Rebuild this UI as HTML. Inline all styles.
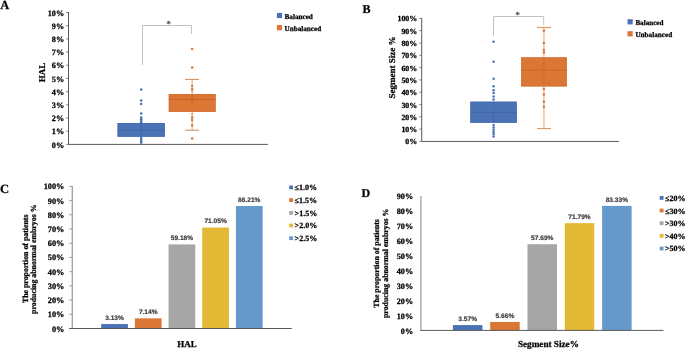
<!DOCTYPE html>
<html><head><meta charset="utf-8"><title>Figure</title>
<style>html,body{margin:0;padding:0;background:#fff;overflow:hidden}svg{display:block}</style></head>
<body>
<svg width="685" height="349" viewBox="0 0 685 349" text-rendering="geometricPrecision">
<rect width="685" height="349" fill="#fff"/>
<text x="0.2" y="9" font-size="12.4" font-family="Liberation Serif, serif" font-weight="bold" stroke="#000" stroke-width="0.25">A</text>
<path d="M68.5 12.10V144.4H268" fill="none" stroke="#5a5a5a" stroke-width="1"/>
<path d="M66.2 144.40H68.5" stroke="#5a5a5a" stroke-width="0.8"/>
<path d="M66.2 131.21H68.5" stroke="#5a5a5a" stroke-width="0.8"/>
<path d="M66.2 118.02H68.5" stroke="#5a5a5a" stroke-width="0.8"/>
<path d="M66.2 104.83H68.5" stroke="#5a5a5a" stroke-width="0.8"/>
<path d="M66.2 91.64H68.5" stroke="#5a5a5a" stroke-width="0.8"/>
<path d="M66.2 78.45H68.5" stroke="#5a5a5a" stroke-width="0.8"/>
<path d="M66.2 65.26H68.5" stroke="#5a5a5a" stroke-width="0.8"/>
<path d="M66.2 52.07H68.5" stroke="#5a5a5a" stroke-width="0.8"/>
<path d="M66.2 38.88H68.5" stroke="#5a5a5a" stroke-width="0.8"/>
<path d="M66.2 25.69H68.5" stroke="#5a5a5a" stroke-width="0.8"/>
<path d="M66.2 12.50H68.5" stroke="#5a5a5a" stroke-width="0.8"/>
<text x="64.1" y="147.50" font-size="8.2" text-anchor="end" font-family="Liberation Serif, serif" font-weight="bold" stroke="#000" stroke-width="0.25">0%</text>
<text x="64.1" y="134.31" font-size="8.2" text-anchor="end" font-family="Liberation Serif, serif" font-weight="bold" stroke="#000" stroke-width="0.25">1%</text>
<text x="64.1" y="121.12" font-size="8.2" text-anchor="end" font-family="Liberation Serif, serif" font-weight="bold" stroke="#000" stroke-width="0.25">2%</text>
<text x="64.1" y="107.93" font-size="8.2" text-anchor="end" font-family="Liberation Serif, serif" font-weight="bold" stroke="#000" stroke-width="0.25">3%</text>
<text x="64.1" y="94.74" font-size="8.2" text-anchor="end" font-family="Liberation Serif, serif" font-weight="bold" stroke="#000" stroke-width="0.25">4%</text>
<text x="64.1" y="81.55" font-size="8.2" text-anchor="end" font-family="Liberation Serif, serif" font-weight="bold" stroke="#000" stroke-width="0.25">5%</text>
<text x="64.1" y="68.36" font-size="8.2" text-anchor="end" font-family="Liberation Serif, serif" font-weight="bold" stroke="#000" stroke-width="0.25">6%</text>
<text x="64.1" y="55.17" font-size="8.2" text-anchor="end" font-family="Liberation Serif, serif" font-weight="bold" stroke="#000" stroke-width="0.25">7%</text>
<text x="64.1" y="41.98" font-size="8.2" text-anchor="end" font-family="Liberation Serif, serif" font-weight="bold" stroke="#000" stroke-width="0.25">8%</text>
<text x="64.1" y="28.79" font-size="8.2" text-anchor="end" font-family="Liberation Serif, serif" font-weight="bold" stroke="#000" stroke-width="0.25">9%</text>
<text x="64.1" y="15.60" font-size="8.2" text-anchor="end" font-family="Liberation Serif, serif" font-weight="bold" stroke="#000" stroke-width="0.25">10%</text>
<text transform="translate(44.8 72.6) rotate(-90)" font-size="9" text-anchor="middle" font-family="Liberation Serif, serif" font-weight="bold" stroke="#000" stroke-width="0.25">HAL</text>
<path d="M142.5 64.8V25.5H191.5V33.8" fill="none" stroke="#c2c2c2" stroke-width="1"/>
<text x="168.5" y="27.3" font-size="9.5" text-anchor="middle" fill="#3a3a3a" font-family="Liberation Serif, serif" font-weight="bold">*</text>
<circle cx="141.2" cy="89.50" r="1.25" fill="#4a72b5" fill-opacity="1"/>
<circle cx="141.2" cy="100.40" r="1.25" fill="#4a72b5" fill-opacity="1"/>
<circle cx="141.2" cy="103.90" r="1.25" fill="#4a72b5" fill-opacity="1"/>
<circle cx="141.2" cy="113.40" r="1.25" fill="#4a72b5" fill-opacity="1"/>
<circle cx="141.2" cy="117.50" r="1.25" fill="#4a72b5" fill-opacity="1"/>
<circle cx="141.2" cy="119.20" r="1.25" fill="#4a72b5" fill-opacity="1"/>
<circle cx="141.2" cy="120.80" r="1.25" fill="#4a72b5" fill-opacity="1"/>
<circle cx="141.2" cy="122.20" r="1.25" fill="#4a72b5" fill-opacity="1"/>
<circle cx="141.2" cy="138.00" r="1.25" fill="#4a72b5" fill-opacity="1"/>
<circle cx="141.2" cy="139.70" r="1.25" fill="#4a72b5" fill-opacity="1"/>
<circle cx="141.2" cy="141.20" r="1.25" fill="#4a72b5" fill-opacity="1"/>
<circle cx="141.2" cy="142.70" r="1.25" fill="#4a72b5" fill-opacity="1"/>
<rect x="117.6" y="123" width="47.2" height="13.8" fill="#4a72b5"/>
<rect x="117.9" y="123.3" width="46.6" height="13.2" fill="none" stroke="#4169ab" stroke-width="0.6"/>
<path d="M139.6 126.6l3.2 3.2m0 -3.2l-3.2 3.2" stroke="#3f64a2" stroke-width="0.5" stroke-opacity="0.7" fill="none"/>
<path d="M117.6 130.4H164.8" stroke="#3e63a3" stroke-width="0.8"/>
<circle cx="141.2" cy="124.80" r="1.0" fill="#3f64a2" fill-opacity="0.6"/>
<circle cx="141.2" cy="126.80" r="1.0" fill="#3f64a2" fill-opacity="0.6"/>
<circle cx="141.2" cy="131.80" r="1.0" fill="#3f64a2" fill-opacity="0.6"/>
<circle cx="141.2" cy="133.60" r="1.0" fill="#3f64a2" fill-opacity="0.6"/>
<circle cx="141.2" cy="135.40" r="1.0" fill="#3f64a2" fill-opacity="0.6"/>
<path d="M192.15 79.4V94 M192.15 111.6V130.2" stroke="#e3a47c" stroke-width="1" fill="none"/>
<path d="M185 79.4H199.1 M185 130.2H199.1" stroke="#dc8750" stroke-width="1" fill="none"/>
<rect x="168.8" y="94" width="46.8" height="17.8" fill="#db7635"/>
<rect x="169.1" y="94.3" width="46.2" height="17.2" fill="none" stroke="#cc6c30" stroke-width="0.6"/>
<path d="M190.5 98.7l3.3 3.3m0 -3.3l-3.3 3.3" stroke="#c2652a" stroke-width="0.5" stroke-opacity="0.8" fill="none"/>
<path d="M168.8 99.4H215.6" stroke="#c2652a" stroke-width="0.8"/>
<circle cx="192.15" cy="48.90" r="1.25" fill="#db7635" fill-opacity="1"/>
<circle cx="192.15" cy="67.50" r="1.25" fill="#db7635" fill-opacity="1"/>
<circle cx="192.15" cy="86.10" r="1.25" fill="#db7635" fill-opacity="1"/>
<circle cx="192.15" cy="89.20" r="1.25" fill="#db7635" fill-opacity="1"/>
<circle cx="192.15" cy="117.50" r="1.25" fill="#db7635" fill-opacity="1"/>
<circle cx="192.15" cy="119.90" r="1.25" fill="#db7635" fill-opacity="1"/>
<circle cx="192.15" cy="125.50" r="1.25" fill="#db7635" fill-opacity="1"/>
<circle cx="192.15" cy="138.60" r="1.25" fill="#db7635" fill-opacity="1"/>
<circle cx="192.15" cy="91.80" r="0.9" fill="#db7635" fill-opacity="0.7"/>
<circle cx="192.15" cy="113.80" r="0.9" fill="#db7635" fill-opacity="0.7"/>
<circle cx="192.15" cy="96.00" r="1.0" fill="#c2652a" fill-opacity="0.6"/>
<circle cx="192.15" cy="98.20" r="1.0" fill="#c2652a" fill-opacity="0.6"/>
<circle cx="192.15" cy="100.60" r="1.0" fill="#c2652a" fill-opacity="0.6"/>
<circle cx="192.15" cy="102.60" r="1.0" fill="#c2652a" fill-opacity="0.6"/>
<circle cx="192.15" cy="105.00" r="1.0" fill="#c2652a" fill-opacity="0.6"/>
<rect x="276.9" y="12.9" width="5.2" height="5.2" fill="#4a72b5"/>
<rect x="276.9" y="25.1" width="5.2" height="5.2" fill="#db7635"/>
<text x="284.5" y="18.5" font-size="7.2" font-family="Liberation Serif, serif" font-weight="bold" stroke="#000" stroke-width="0.25">Balanced</text>
<text x="284.5" y="30.5" font-size="7.2" font-family="Liberation Serif, serif" font-weight="bold" stroke="#000" stroke-width="0.25">Unbalanced</text>
<text x="362.4" y="12.6" font-size="12" font-family="Liberation Serif, serif" font-weight="bold" stroke="#000" stroke-width="0.25">B</text>
<path d="M421.7 18.00V141.45H618.8" fill="none" stroke="#5a5a5a" stroke-width="1"/>
<path d="M419.4 141.45H421.7" stroke="#5a5a5a" stroke-width="0.8"/>
<path d="M419.4 129.14H421.7" stroke="#5a5a5a" stroke-width="0.8"/>
<path d="M419.4 116.84H421.7" stroke="#5a5a5a" stroke-width="0.8"/>
<path d="M419.4 104.53H421.7" stroke="#5a5a5a" stroke-width="0.8"/>
<path d="M419.4 92.23H421.7" stroke="#5a5a5a" stroke-width="0.8"/>
<path d="M419.4 79.92H421.7" stroke="#5a5a5a" stroke-width="0.8"/>
<path d="M419.4 67.62H421.7" stroke="#5a5a5a" stroke-width="0.8"/>
<path d="M419.4 55.31H421.7" stroke="#5a5a5a" stroke-width="0.8"/>
<path d="M419.4 43.01H421.7" stroke="#5a5a5a" stroke-width="0.8"/>
<path d="M419.4 30.70H421.7" stroke="#5a5a5a" stroke-width="0.8"/>
<path d="M419.4 18.40H421.7" stroke="#5a5a5a" stroke-width="0.8"/>
<text x="417.2" y="144.45" font-size="7.9" text-anchor="end" font-family="Liberation Serif, serif" font-weight="bold" stroke="#000" stroke-width="0.25">0%</text>
<text x="417.2" y="132.14" font-size="7.9" text-anchor="end" font-family="Liberation Serif, serif" font-weight="bold" stroke="#000" stroke-width="0.25">10%</text>
<text x="417.2" y="119.84" font-size="7.9" text-anchor="end" font-family="Liberation Serif, serif" font-weight="bold" stroke="#000" stroke-width="0.25">20%</text>
<text x="417.2" y="107.53" font-size="7.9" text-anchor="end" font-family="Liberation Serif, serif" font-weight="bold" stroke="#000" stroke-width="0.25">30%</text>
<text x="417.2" y="95.23" font-size="7.9" text-anchor="end" font-family="Liberation Serif, serif" font-weight="bold" stroke="#000" stroke-width="0.25">40%</text>
<text x="417.2" y="82.92" font-size="7.9" text-anchor="end" font-family="Liberation Serif, serif" font-weight="bold" stroke="#000" stroke-width="0.25">50%</text>
<text x="417.2" y="70.62" font-size="7.9" text-anchor="end" font-family="Liberation Serif, serif" font-weight="bold" stroke="#000" stroke-width="0.25">60%</text>
<text x="417.2" y="58.31" font-size="7.9" text-anchor="end" font-family="Liberation Serif, serif" font-weight="bold" stroke="#000" stroke-width="0.25">70%</text>
<text x="417.2" y="46.01" font-size="7.9" text-anchor="end" font-family="Liberation Serif, serif" font-weight="bold" stroke="#000" stroke-width="0.25">80%</text>
<text x="417.2" y="33.70" font-size="7.9" text-anchor="end" font-family="Liberation Serif, serif" font-weight="bold" stroke="#000" stroke-width="0.25">90%</text>
<text x="417.2" y="21.40" font-size="7.9" text-anchor="end" font-family="Liberation Serif, serif" font-weight="bold" stroke="#000" stroke-width="0.25">100%</text>
<text transform="translate(395 67.4) rotate(-90)" font-size="9" text-anchor="middle" font-family="Liberation Serif, serif" font-weight="bold" stroke="#000" stroke-width="0.25">Segment Size %</text>
<path d="M493.5 35.8V16.5H543.7V25.2" fill="none" stroke="#c2c2c2" stroke-width="1"/>
<text x="517.6" y="18.1" font-size="9.5" text-anchor="middle" fill="#3a3a3a" font-family="Liberation Serif, serif" font-weight="bold">*</text>
<circle cx="493.6" cy="41.80" r="1.25" fill="#4a72b5" fill-opacity="1"/>
<circle cx="493.6" cy="61.70" r="1.25" fill="#4a72b5" fill-opacity="1"/>
<circle cx="493.6" cy="78.80" r="1.25" fill="#4a72b5" fill-opacity="1"/>
<circle cx="493.6" cy="86.20" r="1.25" fill="#4a72b5" fill-opacity="1"/>
<circle cx="493.6" cy="90.30" r="1.25" fill="#4a72b5" fill-opacity="1"/>
<circle cx="493.6" cy="92.90" r="1.25" fill="#4a72b5" fill-opacity="1"/>
<circle cx="493.6" cy="96.60" r="1.25" fill="#4a72b5" fill-opacity="1"/>
<circle cx="493.6" cy="99.40" r="1.25" fill="#4a72b5" fill-opacity="1"/>
<circle cx="493.6" cy="125.00" r="1.25" fill="#4a72b5" fill-opacity="1"/>
<circle cx="493.6" cy="127.40" r="1.25" fill="#4a72b5" fill-opacity="1"/>
<circle cx="493.6" cy="129.70" r="1.25" fill="#4a72b5" fill-opacity="1"/>
<circle cx="493.6" cy="131.90" r="1.25" fill="#4a72b5" fill-opacity="1"/>
<circle cx="493.6" cy="134.10" r="1.25" fill="#4a72b5" fill-opacity="1"/>
<circle cx="493.6" cy="136.40" r="1.25" fill="#4a72b5" fill-opacity="1"/>
<rect x="470.4" y="101.7" width="46.4" height="21.1" fill="#4a72b5"/>
<rect x="470.7" y="102" width="45.8" height="20.5" fill="none" stroke="#4169ab" stroke-width="0.6"/>
<path d="M492 108.4l3.2 3.2m0 -3.2l-3.2 3.2" stroke="#3f64a2" stroke-width="0.5" stroke-opacity="0.7" fill="none"/>
<path d="M470.4 112.3H516.8" stroke="#3e63a3" stroke-width="0.8"/>
<circle cx="493.6" cy="103.50" r="1.0" fill="#3f64a2" fill-opacity="0.6"/>
<circle cx="493.6" cy="105.80" r="1.0" fill="#3f64a2" fill-opacity="0.6"/>
<circle cx="493.6" cy="114.40" r="1.0" fill="#3f64a2" fill-opacity="0.6"/>
<circle cx="493.6" cy="116.60" r="1.0" fill="#3f64a2" fill-opacity="0.6"/>
<circle cx="493.6" cy="118.80" r="1.0" fill="#3f64a2" fill-opacity="0.6"/>
<circle cx="493.6" cy="121.00" r="1.0" fill="#3f64a2" fill-opacity="0.6"/>
<path d="M543.9 27.5V57.4 M543.9 86.4V128.6" stroke="#f2c9ae" stroke-width="1.7" fill="none"/>
<path d="M537.1 27.4H551 M537.1 128.6H551" stroke="#e08a52" stroke-width="1" fill="none"/>
<rect x="521.2" y="57.4" width="45.6" height="29" fill="#db7635"/>
<rect x="521.5" y="57.7" width="45" height="28.4" fill="none" stroke="#cc6c30" stroke-width="0.6"/>
<path d="M542.2 71.6l3.3 3.3m0 -3.3l-3.3 3.3" stroke="#c2652a" stroke-width="0.5" stroke-opacity="0.8" fill="none"/>
<path d="M521.2 70.2H566.8" stroke="#c2652a" stroke-width="0.8"/>
<circle cx="543.9" cy="30.80" r="1.25" fill="#db7635" fill-opacity="1"/>
<circle cx="543.9" cy="43.10" r="1.25" fill="#db7635" fill-opacity="1"/>
<circle cx="543.9" cy="50.10" r="1.25" fill="#db7635" fill-opacity="1"/>
<circle cx="543.9" cy="52.50" r="1.25" fill="#db7635" fill-opacity="1"/>
<circle cx="543.9" cy="89.00" r="1.25" fill="#db7635" fill-opacity="1"/>
<circle cx="543.9" cy="94.60" r="1.25" fill="#db7635" fill-opacity="1"/>
<circle cx="543.9" cy="101.70" r="1.25" fill="#db7635" fill-opacity="1"/>
<circle cx="543.9" cy="106.70" r="1.25" fill="#db7635" fill-opacity="1"/>
<circle cx="543.9" cy="60.00" r="1.0" fill="#c2652a" fill-opacity="0.6"/>
<circle cx="543.9" cy="63.00" r="1.0" fill="#c2652a" fill-opacity="0.6"/>
<circle cx="543.9" cy="66.00" r="1.0" fill="#c2652a" fill-opacity="0.6"/>
<circle cx="543.9" cy="68.30" r="1.0" fill="#c2652a" fill-opacity="0.6"/>
<circle cx="543.9" cy="77.00" r="1.0" fill="#c2652a" fill-opacity="0.6"/>
<circle cx="543.9" cy="80.00" r="1.0" fill="#c2652a" fill-opacity="0.6"/>
<circle cx="543.9" cy="83.00" r="1.0" fill="#c2652a" fill-opacity="0.6"/>
<rect x="627.5" y="19.2" width="5.2" height="5.2" fill="#4a72b5"/>
<rect x="627.5" y="31.2" width="5.2" height="5.2" fill="#db7635"/>
<text x="635.4" y="24.5" font-size="7.1" font-family="Liberation Serif, serif" font-weight="bold" stroke="#000" stroke-width="0.25">Balanced</text>
<text x="635.4" y="36.5" font-size="7.2" font-family="Liberation Serif, serif" font-weight="bold" stroke="#000" stroke-width="0.25">Unbalanced</text>
<text x="-0.1" y="193.2" font-size="12.6" font-family="Liberation Serif, serif" font-weight="bold" stroke="#000" stroke-width="0.25">C</text>
<path d="M72.25 186.00V328.5" fill="none" stroke="#8c8c8c" stroke-width="1.1"/>
<path d="M69.15 328.50H72.25" stroke="#8c8c8c" stroke-width="0.8"/>
<path d="M69.15 314.29H72.25" stroke="#8c8c8c" stroke-width="0.8"/>
<path d="M69.15 300.08H72.25" stroke="#8c8c8c" stroke-width="0.8"/>
<path d="M69.15 285.87H72.25" stroke="#8c8c8c" stroke-width="0.8"/>
<path d="M69.15 271.66H72.25" stroke="#8c8c8c" stroke-width="0.8"/>
<path d="M69.15 257.45H72.25" stroke="#8c8c8c" stroke-width="0.8"/>
<path d="M69.15 243.24H72.25" stroke="#8c8c8c" stroke-width="0.8"/>
<path d="M69.15 229.03H72.25" stroke="#8c8c8c" stroke-width="0.8"/>
<path d="M69.15 214.82H72.25" stroke="#8c8c8c" stroke-width="0.8"/>
<path d="M69.15 200.61H72.25" stroke="#8c8c8c" stroke-width="0.8"/>
<path d="M69.15 186.40H72.25" stroke="#8c8c8c" stroke-width="0.8"/>
<text x="64.4" y="331.50" font-size="8.3" text-anchor="end" font-family="Liberation Serif, serif" font-weight="bold" stroke="#000" stroke-width="0.25">0%</text>
<text x="64.4" y="317.29" font-size="8.3" text-anchor="end" font-family="Liberation Serif, serif" font-weight="bold" stroke="#000" stroke-width="0.25">10%</text>
<text x="64.4" y="303.08" font-size="8.3" text-anchor="end" font-family="Liberation Serif, serif" font-weight="bold" stroke="#000" stroke-width="0.25">20%</text>
<text x="64.4" y="288.87" font-size="8.3" text-anchor="end" font-family="Liberation Serif, serif" font-weight="bold" stroke="#000" stroke-width="0.25">30%</text>
<text x="64.4" y="274.66" font-size="8.3" text-anchor="end" font-family="Liberation Serif, serif" font-weight="bold" stroke="#000" stroke-width="0.25">40%</text>
<text x="64.4" y="260.45" font-size="8.3" text-anchor="end" font-family="Liberation Serif, serif" font-weight="bold" stroke="#000" stroke-width="0.25">50%</text>
<text x="64.4" y="246.24" font-size="8.3" text-anchor="end" font-family="Liberation Serif, serif" font-weight="bold" stroke="#000" stroke-width="0.25">60%</text>
<text x="64.4" y="232.03" font-size="8.3" text-anchor="end" font-family="Liberation Serif, serif" font-weight="bold" stroke="#000" stroke-width="0.25">70%</text>
<text x="64.4" y="217.82" font-size="8.3" text-anchor="end" font-family="Liberation Serif, serif" font-weight="bold" stroke="#000" stroke-width="0.25">80%</text>
<text x="64.4" y="203.61" font-size="8.3" text-anchor="end" font-family="Liberation Serif, serif" font-weight="bold" stroke="#000" stroke-width="0.25">90%</text>
<text x="64.4" y="189.40" font-size="8.3" text-anchor="end" font-family="Liberation Serif, serif" font-weight="bold" stroke="#000" stroke-width="0.25">100%</text>
<text transform="translate(28.4 258.8) rotate(-90)" font-size="7.85" text-anchor="middle" font-family="Liberation Serif, serif" font-weight="bold" stroke="#000" stroke-width="0.25">The proportion of patients</text>
<text transform="translate(35.9 259.2) rotate(-90)" font-size="7.85" text-anchor="middle" font-family="Liberation Serif, serif" font-weight="bold" stroke="#000" stroke-width="0.25">producing abnormal embryos %</text>
<rect x="101.20" y="324.05" width="26.7" height="4.45" fill="#4a72b5"/>
<text x="114.55" y="319.55" font-size="6.6" text-anchor="middle" fill="#404040" font-family="Liberation Sans, sans-serif" font-weight="bold" stroke="#404040" stroke-width="0.2">3.13%</text>
<rect x="134.88" y="318.35" width="26.7" height="10.15" fill="#db7635"/>
<text x="148.23" y="313.85" font-size="6.6" text-anchor="middle" fill="#404040" font-family="Liberation Sans, sans-serif" font-weight="bold" stroke="#404040" stroke-width="0.2">7.14%</text>
<rect x="168.56" y="244.41" width="26.7" height="84.09" fill="#a6a6a6"/>
<text x="181.91" y="239.91" font-size="6.6" text-anchor="middle" fill="#404040" font-family="Liberation Sans, sans-serif" font-weight="bold" stroke="#404040" stroke-width="0.2">59.18%</text>
<rect x="202.24" y="227.54" width="26.7" height="100.96" fill="#e3b935"/>
<text x="215.59" y="223.04" font-size="6.6" text-anchor="middle" fill="#404040" font-family="Liberation Sans, sans-serif" font-weight="bold" stroke="#404040" stroke-width="0.2">71.05%</text>
<rect x="235.92" y="206.00" width="26.7" height="122.50" fill="#6699cb"/>
<text x="249.27" y="201.50" font-size="6.6" text-anchor="middle" fill="#404040" font-family="Liberation Sans, sans-serif" font-weight="bold" stroke="#404040" stroke-width="0.2">86.21%</text>
<path d="M69.15 328.5H291.8" stroke="#5a5a5a" stroke-width="1"/>
<text x="187" y="347.2" font-size="9" text-anchor="middle" font-family="Liberation Serif, serif" font-weight="bold" stroke="#000" stroke-width="0.25">HAL</text>
<rect x="289.2" y="185.50" width="3.8" height="3.8" fill="#4a72b5"/>
<text x="294.6" y="190.40" font-size="8" font-family="Liberation Serif, serif" font-weight="bold" stroke="#000" stroke-width="0.25">≤1.0%</text>
<rect x="289.2" y="198.20" width="3.8" height="3.8" fill="#db7635"/>
<text x="294.6" y="202.95" font-size="8" font-family="Liberation Serif, serif" font-weight="bold" stroke="#000" stroke-width="0.25">≤1.5%</text>
<rect x="289.2" y="210.90" width="3.8" height="3.8" fill="#a6a6a6"/>
<text x="294.6" y="215.50" font-size="8" font-family="Liberation Serif, serif" font-weight="bold" stroke="#000" stroke-width="0.25">&gt;1.5%</text>
<rect x="289.2" y="223.60" width="3.8" height="3.8" fill="#e3b935"/>
<text x="294.6" y="228.05" font-size="8" font-family="Liberation Serif, serif" font-weight="bold" stroke="#000" stroke-width="0.25">&gt;2.0%</text>
<rect x="289.2" y="236.30" width="3.8" height="3.8" fill="#6699cb"/>
<text x="294.6" y="240.60" font-size="8" font-family="Liberation Serif, serif" font-weight="bold" stroke="#000" stroke-width="0.25">&gt;2.5%</text>
<text x="361.5" y="196.6" font-size="12" font-family="Liberation Serif, serif" font-weight="bold" stroke="#000" stroke-width="0.25">D</text>
<path d="M420.9 195.94V330.4" fill="none" stroke="#a0a0a0" stroke-width="1.3"/>
<text x="413.1" y="333.50" font-size="8.2" text-anchor="end" font-family="Liberation Serif, serif" font-weight="bold" stroke="#000" stroke-width="0.25">0%</text>
<text x="413.1" y="318.56" font-size="8.2" text-anchor="end" font-family="Liberation Serif, serif" font-weight="bold" stroke="#000" stroke-width="0.25">10%</text>
<text x="413.1" y="303.62" font-size="8.2" text-anchor="end" font-family="Liberation Serif, serif" font-weight="bold" stroke="#000" stroke-width="0.25">20%</text>
<text x="413.1" y="288.68" font-size="8.2" text-anchor="end" font-family="Liberation Serif, serif" font-weight="bold" stroke="#000" stroke-width="0.25">30%</text>
<text x="413.1" y="273.74" font-size="8.2" text-anchor="end" font-family="Liberation Serif, serif" font-weight="bold" stroke="#000" stroke-width="0.25">40%</text>
<text x="413.1" y="258.80" font-size="8.2" text-anchor="end" font-family="Liberation Serif, serif" font-weight="bold" stroke="#000" stroke-width="0.25">50%</text>
<text x="413.1" y="243.86" font-size="8.2" text-anchor="end" font-family="Liberation Serif, serif" font-weight="bold" stroke="#000" stroke-width="0.25">60%</text>
<text x="413.1" y="228.92" font-size="8.2" text-anchor="end" font-family="Liberation Serif, serif" font-weight="bold" stroke="#000" stroke-width="0.25">70%</text>
<text x="413.1" y="213.98" font-size="8.2" text-anchor="end" font-family="Liberation Serif, serif" font-weight="bold" stroke="#000" stroke-width="0.25">80%</text>
<text x="413.1" y="199.04" font-size="8.2" text-anchor="end" font-family="Liberation Serif, serif" font-weight="bold" stroke="#000" stroke-width="0.25">90%</text>
<text transform="translate(379.1 263.4) rotate(-90)" font-size="7.85" text-anchor="middle" font-family="Liberation Serif, serif" font-weight="bold" stroke="#000" stroke-width="0.25">The proportion of patients</text>
<text transform="translate(387.5 263.3) rotate(-90)" font-size="7.85" text-anchor="middle" font-family="Liberation Serif, serif" font-weight="bold" stroke="#000" stroke-width="0.25">producing abnormal embryos %</text>
<rect x="452.90" y="325.07" width="29.5" height="5.33" fill="#4a72b5"/>
<text x="467.65" y="320.67" font-size="6.6" text-anchor="middle" fill="#404040" font-family="Liberation Sans, sans-serif" font-weight="bold" stroke="#404040" stroke-width="0.2">3.57%</text>
<rect x="490.20" y="321.94" width="29.5" height="8.46" fill="#db7635"/>
<text x="504.95" y="317.54" font-size="6.6" text-anchor="middle" fill="#404040" font-family="Liberation Sans, sans-serif" font-weight="bold" stroke="#404040" stroke-width="0.2">5.66%</text>
<rect x="527.50" y="244.21" width="29.5" height="86.19" fill="#a6a6a6"/>
<text x="542.25" y="239.81" font-size="6.6" text-anchor="middle" fill="#404040" font-family="Liberation Sans, sans-serif" font-weight="bold" stroke="#404040" stroke-width="0.2">57.69%</text>
<rect x="564.80" y="223.15" width="29.5" height="107.25" fill="#e3b935"/>
<text x="579.55" y="218.75" font-size="6.6" text-anchor="middle" fill="#404040" font-family="Liberation Sans, sans-serif" font-weight="bold" stroke="#404040" stroke-width="0.2">71.79%</text>
<rect x="602.10" y="205.90" width="29.5" height="124.50" fill="#6699cb"/>
<text x="616.85" y="201.50" font-size="6.6" text-anchor="middle" fill="#404040" font-family="Liberation Sans, sans-serif" font-weight="bold" stroke="#404040" stroke-width="0.2">83.33%</text>
<path d="M420.29999999999995 330.4H663.5" stroke="#5a5a5a" stroke-width="1"/>
<text x="517.9" y="346.8" font-size="9.2" font-family="Liberation Serif, serif" font-weight="bold" stroke="#000" stroke-width="0.25">Segment Size%</text>
<rect x="659.7" y="196.00" width="3.8" height="3.8" fill="#4a72b5"/>
<text x="665" y="201.10" font-size="8" font-family="Liberation Serif, serif" font-weight="bold" stroke="#000" stroke-width="0.25">≤20%</text>
<rect x="659.7" y="208.65" width="3.8" height="3.8" fill="#db7635"/>
<text x="665" y="213.60" font-size="8" font-family="Liberation Serif, serif" font-weight="bold" stroke="#000" stroke-width="0.25">≤30%</text>
<rect x="659.7" y="221.30" width="3.8" height="3.8" fill="#a6a6a6"/>
<text x="665" y="226.10" font-size="8" font-family="Liberation Serif, serif" font-weight="bold" stroke="#000" stroke-width="0.25">&gt;30%</text>
<rect x="659.7" y="233.95" width="3.8" height="3.8" fill="#e3b935"/>
<text x="665" y="238.60" font-size="8" font-family="Liberation Serif, serif" font-weight="bold" stroke="#000" stroke-width="0.25">&gt;40%</text>
<rect x="659.7" y="246.60" width="3.8" height="3.8" fill="#6699cb"/>
<text x="665" y="251.10" font-size="8" font-family="Liberation Serif, serif" font-weight="bold" stroke="#000" stroke-width="0.25">&gt;50%</text>
</svg>
</body></html>
